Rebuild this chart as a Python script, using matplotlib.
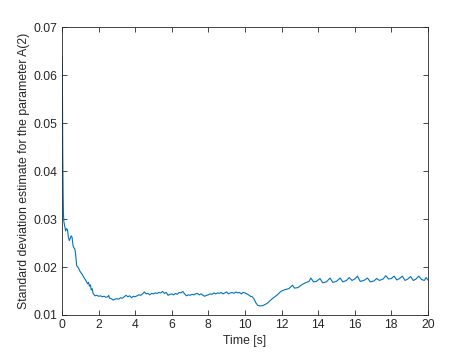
import matplotlib
matplotlib.use("Agg")
import matplotlib.pyplot as plt

time_s = [0.0, 0.02, 0.04, 0.06, 0.08, 0.1, 0.15, 0.2, 0.25, 0.3, 0.35, 0.4, 0.45, 0.5, 0.55,
          0.6, 0.65, 0.7, 0.75, 0.8, 0.9, 1.0, 1.1, 1.2, 1.3, 1.4, 1.45, 1.5, 1.55, 1.6, 1.65,
          1.7, 1.8, 1.9, 2.0, 2.1, 2.2, 2.3, 2.4, 2.5, 2.55, 2.6, 2.7, 2.8, 2.9, 3.0, 3.1, 3.2,
          3.3, 3.4, 3.5, 3.6, 3.7, 3.8, 3.9, 4.0, 4.1, 4.2, 4.3, 4.4, 4.5, 4.6, 4.7, 4.8, 4.9,
          5.0, 5.1, 5.2, 5.3, 5.4, 5.5, 5.6, 5.7, 5.8, 5.9, 6.0, 6.1, 6.2, 6.3, 6.4, 6.5, 6.6,
          6.7, 6.8, 6.9, 7.0, 7.1, 7.2, 7.3, 7.4, 7.5, 7.6, 7.7, 7.8, 7.9, 8.0, 8.1, 8.2, 8.3,
          8.4, 8.5, 8.6, 8.7, 8.8, 8.9, 9.0, 9.1, 9.2, 9.3, 9.4, 9.5, 9.6, 9.7, 9.8, 9.9, 10.0,
          10.1, 10.2, 10.3, 10.4, 10.5, 10.6, 10.7, 10.8, 10.9, 11.0, 11.1, 11.2, 11.3, 11.4,
          11.5, 11.6, 11.7, 11.8, 11.9, 12.0, 12.2, 12.4, 12.6, 12.7, 12.9, 13.1, 13.3, 13.5,
          13.6, 13.75, 13.9, 14.1, 14.25, 14.45, 14.65, 14.8, 15.0, 15.2, 15.35, 15.55, 15.7,
          15.85, 16.0, 16.15, 16.3, 16.5, 16.7, 16.85, 17.05, 17.2, 17.35, 17.55, 17.7, 17.85,
          18.0, 18.15, 18.3, 18.45, 18.6, 18.75, 18.9, 19.05, 19.2, 19.35, 19.5, 19.65, 19.8,
          19.9, 20.0]

std_a2 = [0.064, 0.060, 0.045, 0.036, 0.031, 0.0295, 0.0285, 0.0275, 0.028, 0.0278, 0.0262,
          0.0255, 0.026, 0.0265, 0.0262, 0.0245, 0.024, 0.0238, 0.0225, 0.0203, 0.0198, 0.019,
          0.0185, 0.0178, 0.0172, 0.0165, 0.0168, 0.016, 0.0163, 0.0152, 0.0155, 0.0145, 0.0140,
          0.0141, 0.0139, 0.0140, 0.0138, 0.0139, 0.0137, 0.0138, 0.0141, 0.0135, 0.0134, 0.0131,
          0.0133, 0.0134, 0.0133, 0.0136, 0.0135, 0.0138, 0.0141, 0.0138, 0.0140, 0.0136, 0.0139,
          0.0138, 0.0140, 0.0142, 0.0141, 0.0144, 0.0148, 0.0144, 0.0145, 0.0142, 0.0145, 0.0144,
          0.0146, 0.0145, 0.0147, 0.0146, 0.0149, 0.0145, 0.0147, 0.0141, 0.0143, 0.0144, 0.0142,
          0.0145, 0.0143, 0.0147, 0.0146, 0.0149, 0.0144, 0.0140, 0.0142, 0.0141, 0.0143, 0.0142,
          0.0144, 0.0145, 0.0142, 0.0144, 0.0141, 0.0139, 0.0141, 0.0142, 0.0144, 0.0143, 0.0146,
          0.0144, 0.0146, 0.0145, 0.0147, 0.0144, 0.0146, 0.0148, 0.0144, 0.0146, 0.0147, 0.0145,
          0.0148, 0.0146, 0.0147, 0.0144, 0.0147, 0.0146, 0.0144, 0.0142, 0.0139, 0.0138, 0.0133,
          0.0125, 0.0120, 0.0119, 0.0119, 0.0120, 0.0122, 0.0124, 0.0127, 0.0131, 0.0134, 0.0137,
          0.0140, 0.0143, 0.0147, 0.0150, 0.0153, 0.0155, 0.0162, 0.0156, 0.0157, 0.0163, 0.0167,
          0.0170, 0.0177, 0.0169, 0.0170, 0.0176, 0.0167, 0.0169, 0.0177, 0.0168, 0.0170, 0.0177,
          0.0169, 0.0172, 0.0178, 0.0172, 0.0175, 0.0181, 0.0170, 0.0172, 0.0177, 0.0169, 0.0171,
          0.0176, 0.0172, 0.0175, 0.0182, 0.0175, 0.0176, 0.0181, 0.0173, 0.0176, 0.0181, 0.0172,
          0.0175, 0.0180, 0.0172, 0.0175, 0.0181, 0.0174, 0.0172, 0.0178, 0.0173]

x_ticks = [0, 2, 4, 6, 8, 10, 12, 14, 16, 18, 20]
y_ticks = [0.01, 0.02, 0.03, 0.04, 0.05, 0.06, 0.07]
y_tick_labels = ["0.01", "0.02", "0.03", "0.04", "0.05", "0.06", "0.07"]

plt.rcParams['font.family'] = ['Liberation Sans', 'DejaVu Sans']
dark = '#262626'

fig = plt.figure(figsize=(4.74, 3.55), dpi=100)
ax = fig.add_axes([0.1308, 0.1127, 0.772, 0.811])
ax.plot(time_s, std_a2, color='#0072BD', linewidth=0.8)
ax.set_xlim(0, 20)
ax.set_ylim(0.01, 0.07)
ax.set_xticks(x_ticks)
ax.set_yticks(y_ticks)
ax.set_yticklabels(y_tick_labels)
ax.tick_params(direction='in', length=3.5, width=0.6, top=True, right=True,
               colors=dark, labelsize=8.8, pad=3)
for s in ax.spines.values():
    s.set_color(dark)
    s.set_linewidth(0.6)
ax.set_xlabel('Time [s]', fontsize=8.8, color=dark, labelpad=3)
ax.set_ylabel('Standard deviation estimate for the parameter A(2)', fontsize=8.8,
              color=dark, labelpad=3)
fig.savefig('out.png', dpi=100)
